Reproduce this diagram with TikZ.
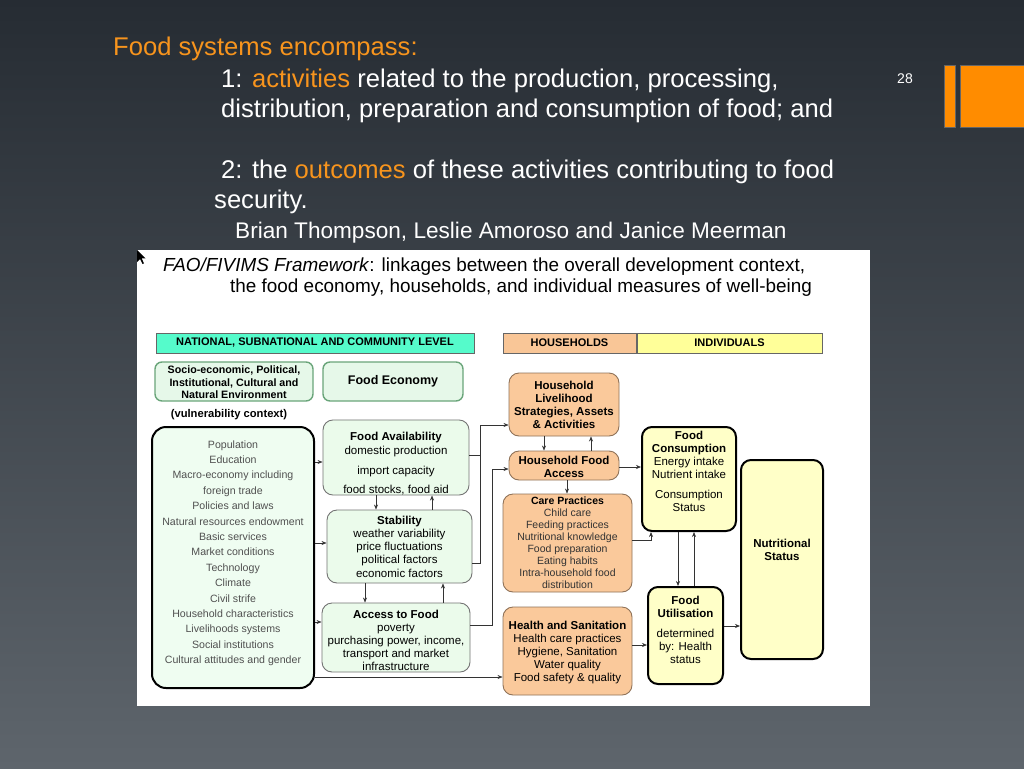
\documentclass[tikz,border=0pt]{standalone}
\usepackage{fontspec}
\setmainfont{Liberation Sans}
\usetikzlibrary{arrows.meta,calc}
\definecolor{bgtop}{HTML}{262C33}
\definecolor{bgbot}{HTML}{5E656C}
\definecolor{orng}{HTML}{F7941D}
\definecolor{barorng}{HTML}{FF8C00}
\definecolor{lcfill}{HTML}{EFFDF1}
\definecolor{gfill}{HTML}{E6F8E9}
\definecolor{gdraw}{HTML}{6AA57A}
\definecolor{mfill}{HTML}{EBFBEB}
\definecolor{hfill}{HTML}{FAC99B}
\definecolor{hdraw}{HTML}{8F7258}
\definecolor{ifill}{HTML}{FFFFC8}
\definecolor{nathead}{HTML}{55FBCB}
\definecolor{hhhead}{HTML}{F9C697}
\definecolor{indhead}{HTML}{FFFF99}
\definecolor{listgray}{HTML}{505050}
\newcommand\myfs[2]{\fontsize{#1}{#2}\selectfont}
\newcommand\dn[1]{\rule{0pt}{#1}}
\newcommand\up[1]{\rule[-#1]{0pt}{0pt}}
\begin{document}
\begin{tikzpicture}[x=1pt,y=-1pt,
  slidetxt/.style={anchor=west,inner sep=0pt,text=white,font=\myfs{25.6}{30}},
  boxbase/.style={align=center,inner sep=0pt},
  lcbox/.style={boxbase,draw=black,line width=2pt,fill=lcfill,rounded corners=14pt,text=listgray,font=\myfs{10.6}{15.4}},
  greenbox/.style={boxbase,draw=gdraw,line width=1.4pt,fill=gfill,rounded corners=7pt,font=\bfseries\myfs{10.7}{12.5}},
  midbox/.style={boxbase,draw=black!55,line width=0.9pt,fill=mfill,rounded corners=10pt,font=\myfs{11.5}{13.2}},
  hhbox/.style={boxbase,draw=hdraw,line width=0.9pt,fill=hfill,rounded corners=10pt,font=\myfs{11.5}{13}},
  indbox/.style={boxbase,draw=black,line width=2pt,fill=ifill,rounded corners=10pt,font=\myfs{11.5}{13}},
  headbox/.style={boxbase,draw=black!60,line width=0.6pt,font=\bfseries\myfs{11}{13}},
  arr/.style={-{Stealth[length=5pt,width=4pt]},line width=0.6pt,draw=black!80},
  ln/.style={line width=0.6pt,draw=black!80}
]
\useasboundingbox (0,0) rectangle (1024,768);
\shade[top color=bgtop,bottom color=bgbot] (0,0) rectangle (1024,768);
% orange bars
\fill[barorng,draw=black!60,line width=0.4pt] (944,65) rectangle (955,127);
\fill[barorng,draw=black!60,line width=0.4pt] (960,65) rectangle (1025,127);
\node[inner sep=0pt,text=white,font=\myfs{14}{16}] (pg) at (905,79) {28};
% slide text
\node[slidetxt,text=orng] (t0) at (113,49) {Food systems encompass:};
\node[slidetxt] (t1) at (221,81) {1: \textcolor{orng}{activities} related to the production, processing,};
\node[slidetxt] (t2) at (221,111) {distribution, preparation and consumption of food; and};
\node[slidetxt] (t3) at (221,172) {2: the \textcolor{orng}{outcomes} of these activities contributing to food};
\node[slidetxt] (t4) at (214,202) {security.};
\node[slidetxt,font=\myfs{22.6}{27}] (t5) at (235,233) {Brian Thompson, Leslie Amoroso and Janice Meerman};
% white panel
\fill[white] (137,250) rectangle (870,706);
\fill[black] (137,250) -- (137,262) -- (140,259) -- (142.5,264) -- (144,263.3) -- (141.6,258.4) -- (145.5,258.4) -- cycle;
% diagram title
\node[anchor=west,inner sep=0pt,font=\myfs{18.9}{22}] (dt1) at (163,267) {\textit{FAO/FIVIMS Framework}: linkages between the overall development context,};
\node[anchor=west,inner sep=0pt,font=\myfs{18.9}{22}] (dt2) at (230,288) {the food economy, households, and individual measures of well-being};
% headers
\node[headbox,fill=nathead,minimum width=318pt,minimum height=20pt] (hnat) at (315,343) {NATIONAL, SUBNATIONAL AND COMMUNITY LEVEL};
\node[headbox,fill=hhhead,minimum width=133pt,minimum height=20pt] (hhh) at (569.5,343) {HOUSEHOLDS};
\node[headbox,fill=indhead,minimum width=185pt,minimum height=20pt] (hind) at (729.5,343) {INDIVIDUALS};
% left column
\node[greenbox,minimum width=158pt,minimum height=39pt] (se) at (234,381.5) {\dn{10pt}Socio-economic, Political,\\Institutional, Cultural and\\Natural Environment};
\node[greenbox,font=\bfseries\myfs{12.5}{14},minimum width=140pt,minimum height=39pt] (fe) at (393,381.5) {Food Economy};
\node[inner sep=0pt,font=\bfseries\myfs{11.2}{13}] (vc) at (229,415) {(vulnerability context)};
\node[lcbox,minimum width=162pt,minimum height=261pt] (lc) at (233,557.5) {Population\\Education\\Macro-economy including\\foreign trade\\Policies and laws\\Natural resources endowment\\Basic services\\Market conditions\\Technology\\Climate\\Civil strife\\Household characteristics\\Livelihoods systems\\Social institutions\\Cultural attitudes and gender\up{11pt}};
% middle column
\node[midbox,minimum width=146pt,minimum height=75pt] (fa) at (396,457.5) {\dn{21pt}\textbf{Food Availability}\\domestic production\\[7pt]import capacity\\[6pt]food stocks, food aid};
\node[midbox,minimum width=145pt,minimum height=73pt] (st) at (399.5,546.5) {\textbf{Stability}\\weather variability\\price fluctuations\\political factors\\economic factors};
\node[midbox,minimum width=148pt,minimum height=69pt] (ac) at (396,637.5) {\dn{14pt}\textbf{Access to Food}\\poverty\\purchasing power, income,\\transport and market\\infrastructure};
% households
\node[hhbox,font=\bfseries\myfs{11.5}{13},minimum width=110pt,minimum height=63pt] (hl) at (564,404.5) {Household\\Livelihood\\Strategies, Assets\\\& Activities};
\node[hhbox,font=\bfseries\myfs{11.5}{13},minimum width=110pt,minimum height=29pt] (hfa) at (564,465.5) {\dn{11pt}Household Food\\Access};
\node[hhbox,font=\myfs{10.5}{12},text=black!80,minimum width=129pt,minimum height=98pt] (cp) at (567.5,543) {{\bfseries\color{black}Care Practices}\\Child care\\Feeding practices\\Nutritional knowledge\\Food preparation\\Eating habits\\Intra-household food\\distribution};
\node[hhbox,minimum width=129pt,minimum height=88pt] (hs) at (567.5,651) {\dn{11.5pt}\textbf{Health and Sanitation}\\Health care practices\\Hygiene, Sanitation\\Water quality\\Food safety \& quality};
% individuals
\node[indbox,minimum width=94pt,minimum height=104pt] (fc) at (689,479) {\textbf{Food}\\\textbf{Consumption}\\Energy intake\\Nutrient intake\\[7pt]Consumption\\Status\up{14.5pt}};
\node[indbox,minimum width=82pt,minimum height=199pt,label={[font=\bfseries\myfs{11.5}{13},align=center,yshift=10pt]center:Nutritional\\Status}] (ns) at (782,559.5) {};
\node[indbox,minimum width=75pt,minimum height=97pt] (fu) at (685.5,635.5) {\textbf{Food}\\\textbf{Utilisation}\\[7pt]determined\\by: Health\\status\up{10.5pt}};
% connectors: left column to middle
\draw[arr] (lc.east |- 0,462) -- (fa.west |- 0,462);
\draw[arr] (lc.east |- 0,543) -- (st.west |- 0,543);
\draw[arr] (lc.east |- 0,622) -- (ac.west |- 0,622);
\draw[arr] (lc.east |- 0,677) -- (hs.west |- 0,677);
% middle vertical
\draw[arr] (fa.south -| 376,0) -- (st.north -| 376,0);
\draw[arr] (st.north -| 432,0) -- (fa.south -| 432,0);
\draw[arr] (st.south -| 365,0) -- (ac.north -| 365,0);
\draw[arr] (ac.north -| 443,0) -- (st.south -| 443,0);
% middle to households
\coordinate (j1) at (480,425);
\coordinate (j2) at (492,469);
\draw[ln] (fa.east |- 0,455) -| (j1);
\draw[arr] (st.east |- 0,563) -| (j1) -- (hl.west |- j1);
\draw[arr] (ac.east |- 0,625) -| (j2) -- (hfa.west |- j2);
% households vertical
\draw[arr] (hl.south -| 544,0) -- (hfa.north -| 544,0);
\draw[arr] (hfa.north -| 591,0) -- (hl.south -| 591,0);
\draw[arr] (hfa.south -| 567,0) -- (cp.north -| 567,0);
% households to individuals
\draw[arr] (hfa.east |- 0,467) -- (fc.west |- 0,467);
\draw[arr] (cp.east |- 0,540) -| (fc.south -| 651,0);
\draw[arr] (hs.east |- 0,645) -- (fu.west |- 0,645);
\draw[arr] (fc.south -| 678,0) -- (fu.north -| 678,0);
\draw[arr] (fu.north -| 694,0) -- (fc.south -| 694,0);
\draw[arr] (fu.east |- 0,626) -- (ns.west |- 0,626);
\end{tikzpicture}
\end{document}
